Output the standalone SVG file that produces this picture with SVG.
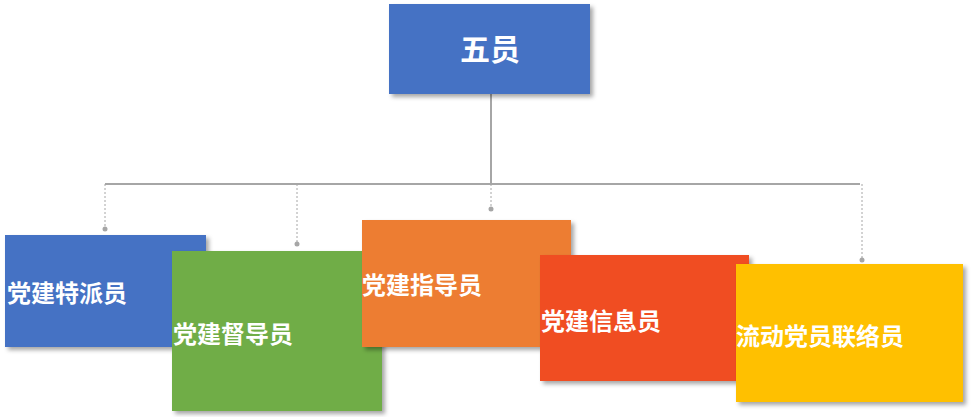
<svg xmlns="http://www.w3.org/2000/svg" width="972" height="417" viewBox="0 0 972 417">
<defs>
<filter id="sh" x="-10%" y="-10%" width="130%" height="130%"><feDropShadow dx="3" dy="3" stdDeviation="2" flood-color="#000" flood-opacity="0.35"/></filter>
</defs>
<style>
.t{font-family:"Noto Sans CJK SC","Noto Sans",sans-serif;font-weight:bold;fill:#fff;font-size:24px}
.l{stroke:#A6A6A6;stroke-width:2;fill:none}
.d{stroke:#A6A6A6;stroke-width:1;stroke-dasharray:2 2;fill:none}
.p{fill:#A6A6A6}
</style>
<rect width="972" height="417" fill="#fff"/>
<g id="connectors">
<path class="l" d="M491 94V184M105 184H860"/>
<path class="d" d="M105 184V229M297 184V244M491 184V209M862 184V260"/>
<circle class="p" cx="105" cy="229" r="2.5"/><circle class="p" cx="297" cy="244" r="2.5"/>
<circle class="p" cx="491" cy="209" r="2.5"/><circle class="p" cx="862" cy="260" r="2.5"/>
</g>
<g id="top"><rect x="389" y="4" width="201" height="90" fill="#4472C4" filter="url(#sh)"/><text class="t" x="490" y="60" font-size="30" text-anchor="middle" style="font-size:30px">五员</text></g>
<g id="n1"><rect x="5" y="235" width="201" height="112" fill="#4472C4" filter="url(#sh)"/><text class="t" x="7" y="302">党建特派员</text></g>
<g id="n2"><rect x="172" y="251" width="210" height="160" fill="#70AD47" filter="url(#sh)"/><text class="t" x="173" y="343">党建督导员</text></g>
<g id="n3"><rect x="362" y="220" width="209" height="127" fill="#ED7D31" filter="url(#sh)"/><text class="t" x="362" y="294">党建指导员</text></g>
<g id="n4"><rect x="540" y="255" width="209" height="126" fill="#F04E23" filter="url(#sh)"/><text class="t" x="541" y="330">党建信息员</text></g>
<g id="n5"><rect x="736" y="264" width="227" height="138" fill="#FFC000" filter="url(#sh)"/><text class="t" x="736" y="345">流动党员联络员</text></g>
</svg>
